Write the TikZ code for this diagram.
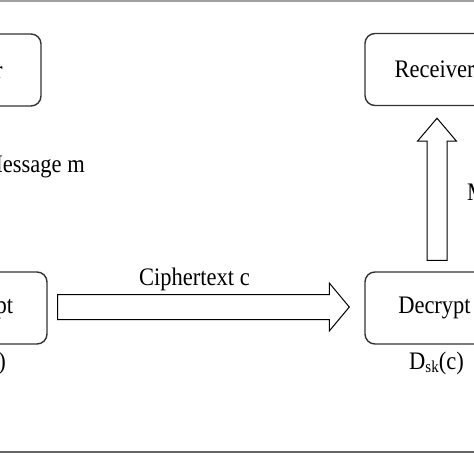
\documentclass[tikz,border=0pt]{standalone}
\usepackage{fontspec}
\setmainfont{Liberation Serif}
\usetikzlibrary{calc}
\definecolor{boxline}{HTML}{333333}
\definecolor{topline}{HTML}{A0A0A0}
\definecolor{botline}{HTML}{666666}
\newcommand{\subsk}[1]{\raisebox{-3pt}{\fontsize{15}{15}\selectfont #1}}
\newcommand{\tall}[1]{\scalebox{1}[1.12]{#1}}
\begin{document}
\begin{tikzpicture}[x=1pt,y=-1pt,
  box/.style={draw=boxline,line width=1.4pt,rounded corners=10pt,minimum width=139pt,minimum height=72pt,inner sep=0pt,font=\fontsize{22.5}{27}\selectfont},
  lbl/.style={inner sep=0pt,font=\fontsize{22.5}{27}\selectfont},
  blockarrow/.style={draw=black,line width=1pt,fill=white,line join=miter},
  frameline/.style={line width=1.8pt}]
\useasboundingbox (0,0) rectangle (474,474);
\clip (0,0) rectangle (474,474);
\fill[white] (0,0) rectangle (474,474);
\draw[frameline,topline] (0,0.9) -- (474,0.9);
\draw[frameline,botline] (0,451.7) -- (474,451.7);
% boxes
\node[box] (snd) at (-28.5,70) {\tall{Sender}};
\node[box] (rec) at (434.5,69.5) {\tall{Receiver}};
\node[box] (enc) at (-22.5,308) {\tall{Encrypt}};
\node[box] (dec) at (434.5,308) {\tall{Decrypt}};
% horizontal block arrow enc -> dec
\coordinate (hs) at ($(enc.east)+(10,-1)$);
\coordinate (ht) at ($(dec.west)+(-15,-1)$);
\draw[blockarrow] ($(hs)+(0,-12.5)$) -- ($(ht)+(-20,-12.5)$) -- ($(ht)+(-20,-24)$) -- (ht)
  -- ($(ht)+(-20,24)$) -- ($(ht)+(-20,12.5)$) -- ($(hs)+(0,12.5)$) -- cycle;
% vertical block arrow dec -> rec
\coordinate (vs) at ($(dec.north)+(2.5,-11)$);
\coordinate (vt) at ($(rec.south)+(2.5,12)$);
\draw[blockarrow] ($(vs)+(-10,0)$) -- ($(vt)+(-10,23)$) -- ($(vt)+(-19.5,23)$) -- (vt)
  -- ($(vt)+(19.5,23)$) -- ($(vt)+(10,23)$) -- ($(vs)+(10,0)$) -- cycle;
% labels
\node[lbl,anchor=base] (ct) at (194.5,285) {\tall{Ciphertext c}};
\node[lbl,anchor=base west] (mr) at (467,200) {\tall{Message m}};
\node[lbl,anchor=base east] (ml) at (85,172) {\tall{Message m}};
\node[lbl,anchor=base west] (dsk) at (409,369) {\tall{D\subsk{sk}(c)}};
\node[lbl,anchor=base east] (epk) at (6,369) {\tall{E\subsk{pk}(m)}};
\end{tikzpicture}
\end{document}
